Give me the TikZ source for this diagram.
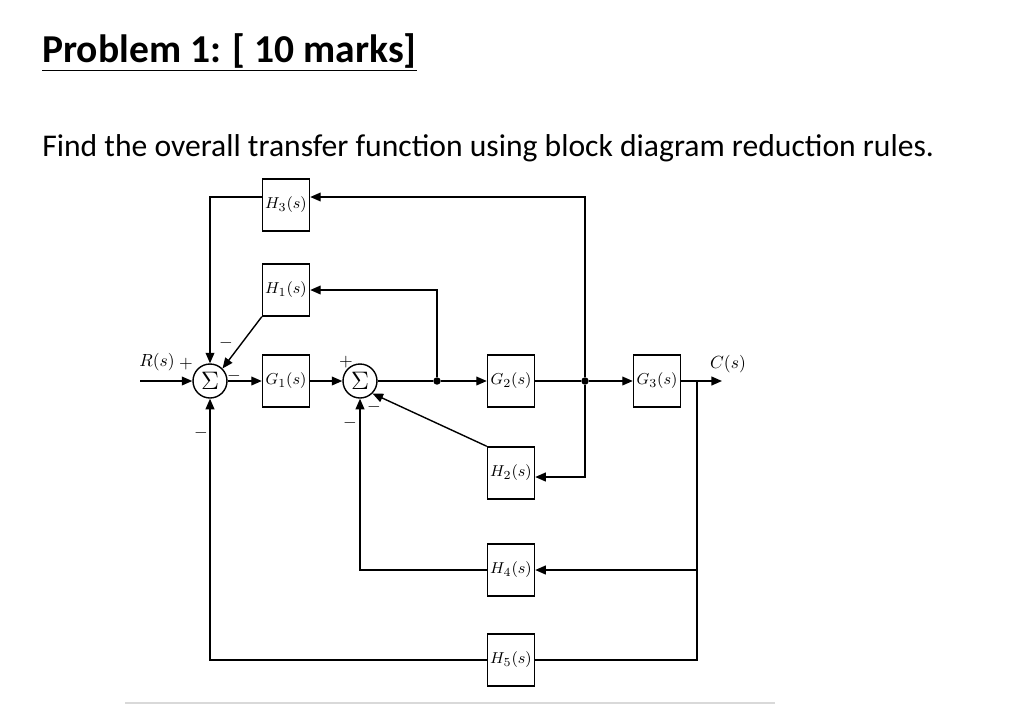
\documentclass[tikz,border=0pt]{standalone}
\usepackage{fontspec}
\newfontfamily\calib{Carlito}
\usetikzlibrary{arrows.meta}
\begin{document}
\begin{tikzpicture}[x=0.02cm,y=-0.02cm,
    blk/.style={draw, thick, minimum width=47*0.02cm, minimum height=52*0.02cm, inner sep=0pt, font=\fontsize{9.5}{10}\selectfont},
    sum/.style={draw, thick, circle, minimum size=34*0.02cm, inner sep=0pt, font=\Large},
    sig/.style={thick, -{Triangle[length=6pt,width=5pt]}},
    ln/.style={thick},
    dot/.style={circle, fill, inner sep=1.5pt},
    lab/.style={font=\fontsize{10}{11}\selectfont}]
\useasboundingbox (0,0) rectangle (1024,717);
% texts
\node[anchor=base west, inner sep=0pt, font=\calib\bfseries\fontsize{22.5}{26}\selectfont] (title) at (42,62) {\underline{Problem 1: [ 10 marks]}};
\node[anchor=base west, inner sep=0pt, font=\calib\fontsize{18}{22}\selectfont] (task) at (42,156) {Find the overall transfer function using block diagram reduction rules.};
% blocks
\node[sum] (s1) at (210,381) {$\Sigma$};
\node[sum] (s2) at (360,381) {$\Sigma$};
\node[blk] (g1) at (286,381) {$G_1(s)$};
\node[blk] (h3) at (286,205) {$H_3(s)$};
\node[blk] (h1) at (286,290) {$H_1(s)$};
\node[blk] (g2) at (511,381) {$G_2(s)$};
\node[blk] (h2) at (511,473) {$H_2(s)$};
\node[blk] (h4) at (511,570) {$H_4(s)$};
\node[blk] (h5) at (511,660) {$H_5(s)$};
\node[blk] (g3) at (657,381) {$G_3(s)$};
\node[dot] (d1) at (437,381) {};
\node[dot] (d2) at (585,381) {};
\coordinate (in) at (140,381);
\coordinate (out) at (722,381);
\coordinate (b3) at (697,381);
\coordinate (k3) at (585,197);
\coordinate (k1) at (437,290);
\coordinate (k2) at (585,477);
\coordinate (k4) at (697,570);
\coordinate (k5) at (697,660);
% forward path
\draw[sig] (in) -- (s1);
\draw[sig] (s1) -- (g1);
\draw[sig] (g1) -- (s2);
\draw[ln] (s2) -- (d1);
\draw[sig] (d1) -- (g2);
\draw[ln] (g2) -- (d2);
\draw[sig] (d2) -- (g3);
\draw[sig] (g3) -- (out);
% feedback loops
\draw[sig] (d2) -- (k3) -- (h3.east |- k3);
\draw[sig] (h3.west |- k3) -| (s1.north);
\draw[sig] (d1) -- (k1) -- (h1.east);
\draw[sig] (h1.south west) -- (s1.north east);
\draw[sig] (d2) -- (k2) -- (h2.east |- k2);
\draw[sig] (h2.north west) -- (s2.south east);
\draw[sig] (b3) -- (k4) -- (h4.east);
\draw[sig] (h4.west) -| (s2.south);
\draw[ln] (b3) -- (k5) -- (h5.east);
\draw[sig] (h5.west) -| (s1.south);
% labels
\node[lab] (rl) at (157,362) {$R(s)$};
\node[lab] (cl) at (728,364) {$C(s)$};
\node[lab] (p1) at (186,364) {$+$};
\node[lab] (m1) at (226,343) {$-$};
\node[lab] (m2) at (234,376) {$-$};
\node[lab] (m3) at (201,433) {$-$};
\node[lab] (p2) at (346,362) {$+$};
\node[lab] (m4) at (350,423) {$-$};
\node[lab] (m5) at (374,407) {$-$};
% bottom rule
\draw[black!15, line width=1pt] (125,703) -- (775,703);
\end{tikzpicture}
\end{document}
